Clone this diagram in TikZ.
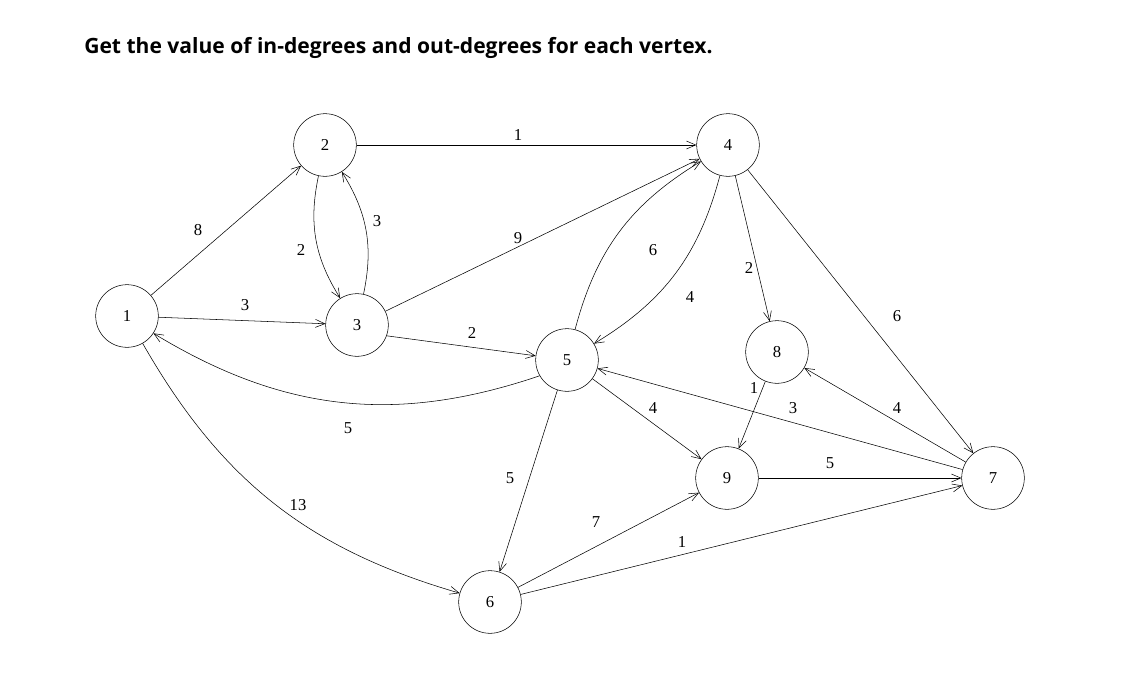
\documentclass[tikz,border=0pt]{standalone}
\usepackage{fontspec}
\setmainfont{Liberation Serif}
\newfontfamily\titlefont{Open Sans}
\usetikzlibrary{arrows.meta}
\begin{document}
\begin{tikzpicture}[x=0.75pt,y=-0.75pt,
  vtx/.style={circle,draw,thin,minimum size=47pt,inner sep=0pt,font=\fontsize{12.5}{14}\selectfont},
  lab/.style={font=\fontsize{12.5}{14}\selectfont,inner sep=0pt},
  edge/.style={thin,-{Straight Barb[length=7pt,width=6pt]}}]
\useasboundingbox (0,0) rectangle (1143,678);
\node[anchor=west,inner sep=0pt,font=\titlefont\bfseries\fontsize{15.8}{18}\selectfont] (title) at (84,48) {Get the value of in-degrees and out-degrees for each vertex.};
\node[vtx] (n1) at (127,316) {1};
\node[vtx] (n2) at (325,145) {2};
\node[vtx] (n3) at (357,325) {3};
\node[vtx] (n4) at (728,145) {4};
\node[vtx] (n5) at (567,360) {5};
\node[vtx] (n6) at (490,602) {6};
\node[vtx] (n7) at (993,478) {7};
\node[vtx] (n8) at (777,352) {8};
\node[vtx] (n9) at (727,478) {9};
\draw[edge] (n1) -- (n2);
\draw[edge] (n1) -- (n3);
\draw[edge] (n2) -- (n4);
\draw[edge] (n2) to[bend right=22] (n3);
\draw[edge] (n3) to[bend right=22] (n2);
\draw[edge] (n3) -- (n4);
\draw[edge] (n3.-20) -- (n5);
\draw[edge] (n5.-150) to[bend left=25] (n1);
\draw[edge] (n1) to[bend right=22] (n6);
\draw[edge] (n5) to[bend left=22] (n4);
\draw[edge] (n4) to[bend left=22] (n5);
\draw[edge] (n4) -- (n8);
\draw[edge] (n4) -- (n7);
\draw[edge] (n5) -- (n9);
\draw[edge] (n5) -- (n6);
\draw[edge] (n8) -- (n9);
\draw[edge] (n7) -- (n5);
\draw[edge] (n7) -- (n8);
\draw[edge] (n9) -- (n7);
\draw[edge] (n6) -- (n9);
\draw[edge] (n6) -- (n7);
\node[lab] (l12) at (198,230) {8};
\node[lab] (l13) at (245,305) {3};
\node[lab] (l24) at (518,135) {1};
\node[lab] (l23) at (301,250) {2};
\node[lab] (l32) at (377,221) {3};
\node[lab] (l34) at (518,238) {9};
\node[lab] (l35) at (472,333) {2};
\node[lab] (l51) at (348,428) {5};
\node[lab] (l16) at (298,505) {13};
\node[lab] (l54) at (653,250) {6};
\node[lab] (l45) at (690,297) {4};
\node[lab] (l48) at (749,268) {2};
\node[lab] (l47) at (897,316) {6};
\node[lab] (l59) at (653,408) {4};
\node[lab] (l56) at (510,478) {5};
\node[lab] (l89) at (754,388) {1};
\node[lab] (l75) at (793,408) {3};
\node[lab] (l78) at (897,408) {4};
\node[lab] (l97) at (830,463) {5};
\node[lab] (l69) at (596,522) {7};
\node[lab] (l67) at (682,542) {1};
\end{tikzpicture}
\end{document}
